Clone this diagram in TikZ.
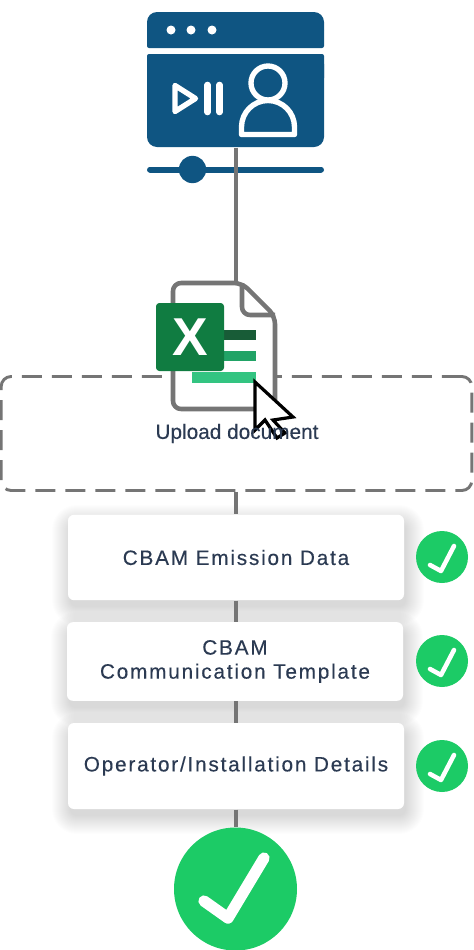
\documentclass[tikz,border=0pt]{standalone}
\usepackage{fontspec}
\setmainfont{Liberation Sans}
\newfontfamily\cardfont[LetterSpace=8.5,FakeBold=0.25]{Liberation Sans}
\newfontfamily\uploadfont[FakeBold=0.25]{Liberation Sans}
\definecolor{iconblue}{HTML}{0F5582}
\definecolor{stemgray}{HTML}{757575}
\definecolor{okgreen}{HTML}{1CCB66}
\definecolor{inktext}{HTML}{2B3A52}
\definecolor{xldark}{HTML}{185C37}
\definecolor{xlmid}{HTML}{21A366}
\definecolor{xllight}{HTML}{33C481}
\definecolor{xlbase}{HTML}{107C41}
\tikzset{every picture/.style={line width=0.75pt}}
\tikzset{
  stem/.style={draw=stemgray,line width=3.4pt},
  card/.style={draw=none,fill=white,rounded corners=4.5pt,inner sep=0pt,minimum width=252pt,align=center,
    text=inktext,font=\cardfont\fontsize{15.6pt}{18pt}\selectfont},
  okdot/.style={circle,fill=okgreen,inner sep=0pt,minimum size=39pt},
  okmark/.style={draw=white,line width=3.4pt,line cap=round,line join=round},
  iconline/.style={draw=white,line width=4pt,line cap=round,line join=round},
}
\begin{document}
\begin{tikzpicture}[x=0.75pt,y=0.75pt,yscale=-1,xscale=1]
\useasboundingbox (0,0) rectangle (474,950);

%Card shadows
\foreach \cardtop/\cardbot/\cardleft in {515/600/68,622/701/67,723/809/68}{
  \foreach \grow in {18,17,...,0}{
    \fill[black,opacity=0.008,rounded corners=5+\grow*0.75] (\cardleft+2-\grow,\cardtop+8-\grow) rectangle (\cardleft+338+\grow,\cardbot+7+\grow);
  }
}

%Video icon
\fill[iconblue,rounded corners=7.5pt] (147,40) -- (147,12) -- (324,12) -- (324,40) -- cycle;
\fill[iconblue,rounded corners=1.5pt] (147,28) rectangle (324,48);
\node (screen) [fill=iconblue,rounded corners=7.5pt,inner sep=0pt,minimum width=132.75pt,minimum height=69.75pt] at (235.5,100.5) {};
\fill[iconblue,rounded corners=1.5pt] (147,54) rectangle (324,80);
\foreach \dotx in {171,191,212}{
  \fill[white] (\dotx,30) circle (4.5);
}
\draw[iconline] (175,85.5) -- (175,111.5) -- (195.5,98.5) -- cycle;
\draw[iconline,line width=5pt] (207.5,85) -- (207.5,112);
\draw[iconline,line width=5pt] (219.5,85) -- (219.5,112);
\draw[iconline] (268,83) circle (17);
\draw[iconline] (241.5,134.5) -- (241.5,127) arc (180:360:26.5) -- (294.5,134.5) -- cycle;
\draw[iconblue,line width=4.5pt,line cap=round] (150,169.5) -- (321,169.5);
\node (knob) [circle,fill=iconblue,inner sep=0pt,minimum size=20.5pt] at (192.5,169.5) {};

%Upload area
\node (upload) [draw=stemgray,line width=2.2pt,dash pattern=on 15pt off 7.5pt,rounded corners=7.5pt,inner sep=0pt,minimum width=353pt,minimum height=85.5pt] at (236.5,433.5) {};

%Document
\node (doc) [inner sep=0pt,minimum width=76.5pt,minimum height=94.5pt] at (224,346) {};
\draw[stemgray,fill=white,line width=3.4pt,line join=round,rounded corners=6pt] (242,283) -- (173,283) -- (173,409) -- (275,409) -- (275,316) -- cycle;
\draw[stemgray,line width=3.4pt,line join=round,rounded corners=6pt] (242,283) -- (242,315) -- (275,315);
\fill[xldark] (220,330) rectangle (256,340);
\fill[xlmid] (220,351) rectangle (256,361);
\fill[xllight] (192,372) rectangle (256,383);
\node (xl) [fill=xlbase,rounded corners=2.5pt,inner sep=0pt,minimum size=51pt,text=white,font=\fontsize{40pt}{40pt}\selectfont\bfseries] at (190,337) {X};
\draw[black,fill=white,line width=2.4pt,line join=miter] (255,382) -- (293,417) -- (273,420) -- (285,433) -- (277,438) -- (265,420) -- (255,430) -- cycle;

\node (uploadtext) [text=inktext,inner sep=0pt,font=\uploadfont\fontsize{15.6pt}{18pt}\selectfont] at (237,433.5) {Upload document};

%Cards
\node (data) [card,minimum height=64pt] at (236,557.5) {CBAM Emission Data};
\node (template) [card,minimum height=59pt] at (235,661.5) {CBAM\\Communication Template};
\node (details) [card,minimum height=64.5pt] at (236,766) {Operator/Installation Details};

%Checks
\foreach \dotname/\doty in {okone/557,oktwo/661,okthree/766}{
  \node (\dotname) [okdot] at (442,\doty) {};
  \draw[okmark] ([shift={(-12,8)}]\dotname.center) -- ([shift={(-1,14)}]\dotname.center) -- ([shift={(12,-11)}]\dotname.center);
}
\node (done) [circle,fill=okgreen,inner sep=0pt,minimum size=92.25pt] at (235.5,889) {};
\draw[okmark,line width=8.5pt] (204,901) -- (228,918) -- (264,858);

%Stems
\draw[stem] (236,0 |- screen.south) -- (236,0 |- doc.north);
\draw[stem] (236,0 |- upload.south) -- (236,0 |- data.north);
\draw[stem] (236,0 |- data.south) -- (236,0 |- template.north);
\draw[stem] (236,0 |- template.south) -- (236,0 |- details.north);
\draw[stem] (236,0 |- details.south) -- (236,0 |- done.north);

\end{tikzpicture}
\end{document}
